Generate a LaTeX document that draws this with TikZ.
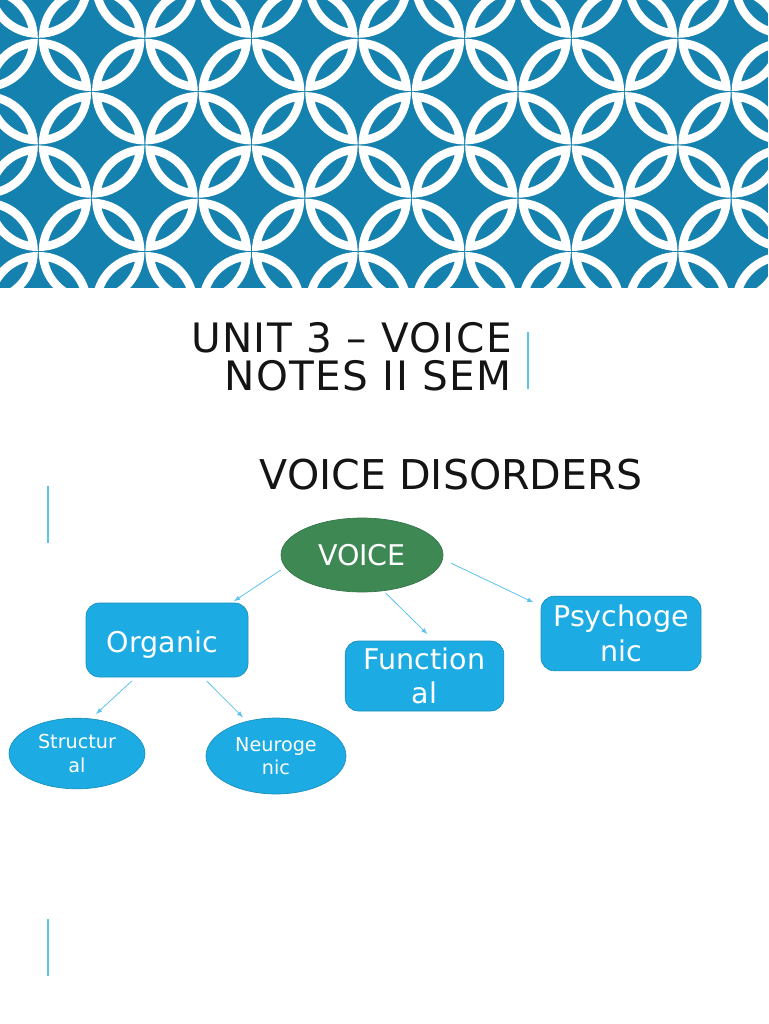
\documentclass[tikz,border=0pt]{standalone}
\usepackage{fontspec}
\usetikzlibrary{shapes.geometric}
\setmainfont{DejaVu Sans}
\newfontfamily\titlefont[LetterSpace=3.6]{DejaVu Sans}
\definecolor{bandblue}{HTML}{1481AE}
\definecolor{boxblue}{HTML}{1CABE2}
\definecolor{boxline}{HTML}{1B8FBC}
\definecolor{voicegreen}{HTML}{3E8853}
\definecolor{voiceline}{HTML}{34754A}
\definecolor{linkblue}{HTML}{5CC3EC}
\tikzset{
	bigtext/.style={text=white, align=center, font=\fontsize{21.4}{25.8}\selectfont},
	smalltext/.style={text=white, align=center, font=\fontsize{14.4}{17.5}\selectfont},
	roundbox/.style={draw=boxline, fill=boxblue, line width=0.5pt, rounded corners=10pt, inner sep=0pt},
	oval/.style={ellipse, draw=boxline, fill=boxblue, line width=0.5pt, inner sep=0pt},
	link/.style={draw=linkblue, line width=0.6pt, -latex},
	bar/.style={draw=linkblue, line width=1pt},
	petal/.style={fill=white, even odd rule}
}
\begin{document}
\begin{tikzpicture}[x=0.75pt, y=-0.75pt]
	\useasboundingbox (0,0) rectangle (768,1024);
	\begin{scope}
		\clip (0,0) rectangle (768,288);
		\fill[bandblue] (0,0) rectangle (768,288);
		% petals of the pattern
		\foreach \xx/\yy in {38.3/38.3, 91.6/91.6}
		{
			\foreach \i in {-1,...,7}
			{
				\foreach \j in {-1,...,3}
				{
					\foreach \ang in {-45,45}
					{
						\fill[petal, shift={(\xx + 106.6*\i, \yy + 106.6*\j)}, rotate=\ang]
							(0.7,0) to[bend left=45] (74.7,0) to[bend left=45] (0.7,0)
							(14.1,0) to[bend left=32, looseness=0.92] (61.3,0) to[bend left=32, looseness=0.92] (14.1,0);
					}
				}
			}
		}
	\end{scope}

	\node[anchor=east, align=right, text=black!92, font=\fontsize{30.4}{28.5}\selectfont\titlefont] (title) at (516.5,357) {UNIT 3 – VOICE\\NOTES II SEM};
	\node[anchor=center, text=black!92, font=\fontsize{30.8}{36}\selectfont] (subtitle) at (451,475) {VOICE DISORDERS};
	\draw[bar] (528,332) -- (528,389);
	\draw[bar] (48,486) -- (48,543);
	\draw[bar] (48,919) -- (48,976);

	\node[oval, draw=voiceline, fill=voicegreen, minimum width=121.5pt, minimum height=55.5pt, bigtext] (voice) at (362,555) {VOICE};
	\node[roundbox, minimum width=121.5pt, minimum height=55.5pt, bigtext] (organic) at (167,640) {\raisebox{-9pt}[0pt][0pt]{Organic~}};
	\node[roundbox, minimum width=119pt, minimum height=52.5pt, bigtext] (functional) at (424.5,676) {Function\\al};
	\node[roundbox, minimum width=120pt, minimum height=56pt, bigtext] (psychogenic) at (621,633.5) {Psychoge\\nic};
	\node[oval, minimum width=102pt, minimum height=53pt, smalltext] (structural) at (77,753.5) {Structur\\al};
	\node[oval, minimum width=105pt, minimum height=57pt, smalltext] (neurogenic) at (276,756) {Neuroge\\nic};

	\draw[link, shorten <=4pt, shorten >=2pt] (voice.189) -- (organic.30.5);
	\draw[link, shorten <=2pt, shorten >=7pt] (voice.-59.5) -- (functional.75);
	\draw[link, shorten <=7pt, shorten >=6pt] (voice.-3.6) -- (psychogenic.161.7);
	\draw[link, shorten <=4pt, shorten >=5pt] (organic.230.5) -- (structural.68);
	\draw[link, shorten <=4pt, shorten >=4pt] (organic.-46.6) -- (neurogenic.130);
\end{tikzpicture}
\end{document}
